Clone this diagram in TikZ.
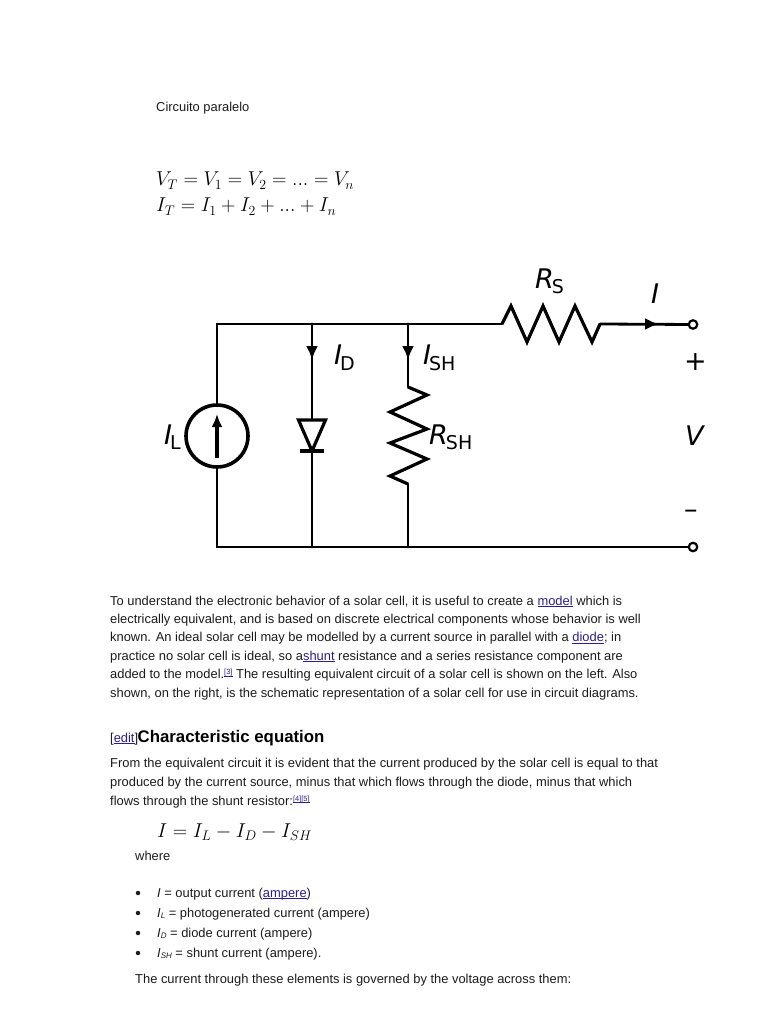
\documentclass[tikz,border=0pt]{standalone}
\usepackage{fontspec}
\setmainfont{Liberation Sans}
\newfontfamily\labelfont{DejaVu Sans}
\usetikzlibrary{positioning, arrows.meta, calc}
\definecolor{kink}{HTML}{1c1c1c}
\definecolor{klink}{HTML}{2a1f8f}
\newcommand{\klink}[1]{\textcolor{klink}{\underline{\smash{#1}}}}
\newcommand{\kref}[1]{\raisebox{4pt}{\fontsize{7.5}{8}\selectfont\klink{[#1]}}}
\newcommand{\ksub}[2]{\textit{#1}\raisebox{-1.5pt}{\fontsize{8}{8}\selectfont\textit{#2}}}
\newcommand{\klabel}[2]{{\labelfont\fontsize{27}{27}\selectfont\itshape #1}\kern-2pt\raisebox{-5.5pt}{\labelfont\fontsize{19}{19}\selectfont #2}}
\newcommand{\keq}[1]{\scalebox{.966}{$#1$}}
\tikzset{
    x=1pt, y=1pt,
    wire/.style={line width=2.8pt, line cap=round, line join=miter, black},
    heavy/.style={line width=3.2pt, line join=miter, black},
    flow/.style={wire, -{Latex[length=14pt, width=12pt]}},
    terminal/.style={circle, draw=black, line width=2.2pt, fill=white, minimum size=8.5pt, inner sep=0pt},
    source/.style={circle, draw=black, line width=3.6pt, fill=white, minimum size=62pt, inner sep=0pt},
    bodytext/.style={anchor=base west, inner sep=0pt, text=kink, font=\fontsize{12.9}{15}\selectfont},
    eqtext/.style={anchor=base west, inner sep=0pt, text=black, font=\fontsize{20}{24}\selectfont},
    circlabel/.style={anchor=base west, inner sep=0pt, text=black},
    bulletdot/.style={circle, fill=kink, minimum size=4.5pt, inner sep=0pt}
}
\begin{document}
\begin{tikzpicture}
    \useasboundingbox (0,0) rectangle (768,-1024);
    \fill[white] (0,0) rectangle (768,-1024);

    % heading and parallel circuit equations
    \node[bodytext] (title) at (156,-111.5) {Circuito paralelo};
    \node[eqtext] (eqv) at (156,-186) {\keq{V_T = V_1 = V_2 = ... = V_n}};
    \node[eqtext] (eqi) at (156,-212) {\keq{I_T = I_1 + I_2 + ... + I_n}};

    % wire junctions
    \coordinate (tl) at (217,-324);
    \coordinate (bl) at (217,-547);
    \coordinate (topd) at (312,-324);
    \coordinate (tops) at (408,-324);
    \coordinate (botd) at (312,-547);
    \coordinate (bots) at (408,-547);
    \coordinate (rsa) at (502,-324);
    \coordinate (rsb) at (600,-324);
    \coordinate (rsha) at (408,-387);
    \coordinate (rshb) at (408,-484);
    \coordinate (tipd) at (312,-360);
    \coordinate (tips) at (408,-360);
    \coordinate (tipi) at (659,-324);
    \coordinate (dioa) at (312,-420);
    \coordinate (diob) at (312,-451);

    \node[source] (il) at (217,-436) {};
    \node[terminal] (tplus) at (693,-324.5) {};
    \node[terminal] (tminus) at (693,-547) {};

    %% wires
    \draw[wire] (il.north) -- (tl) -- (rsa);
    \draw[wire] (rsb) -- (tplus);
    \draw[wire] (il.south) -- (bl) -- (tminus);
    \draw[wire] (topd) -- (dioa);
    \draw[wire] (diob) -- (botd);
    \draw[wire] (tops) -- (rsha);
    \draw[wire] (rshb) -- (bots);

    %% current arrows
    \draw[flow] (topd) -- (tipd);
    \draw[flow] (tops) -- (tips);
    \draw[flow] (rsb) -- (tipi);

    %% series resistor
    \draw[heavy] (rsa) -- ++(9,18) -- ++(16,-36) -- ++(16,36) -- ++(16,-36) -- ++(16,36) -- ++(17,-36) -- (rsb);

    %% shunt resistor
    \draw[heavy] (rsha) -- ++(19,-8) -- ++(-37,-17) -- ++(37,-17) -- ++(-37,-14) -- ++(37,-16) -- ++(-37,-17) -- (rshb);

    %% diode
    \draw[heavy] (dioa) -- ++(-13.5,0) -- (diob) -- ++(13.5,31) -- cycle;
    \draw[line width=4pt] ($(diob)+(-12,0)$) -- ($(diob)+(12,0)$);

    %% source arrow
    \draw[line width=4pt, -{Latex[length=13pt, width=11pt]}] ($(il)+(0,-22)$) -- ($(il)+(0,22)$);

    %% labels
    \node[circlabel] (lrs) at (535,-288) {\klabel{R}{S}};
    \node[circlabel] (li) at (651,-303.5) {\klabel{I}{}};
    \node[circlabel] (lid) at (334,-364.5) {\klabel{I}{D}};
    \node[circlabel] (lish) at (423,-364.5) {\klabel{I}{SH}};
    \node[circlabel] (lil) at (164,-444) {\klabel{I}{L}};
    \node[circlabel] (lrsh) at (429,-444) {\klabel{R}{SH}};
    \node[circlabel] (lv) at (685,-445) {\klabel{V}{}};
    \node[circlabel] (lplus) at (684,-370) {\labelfont\fontsize{27}{27}\selectfont +};
    \node[circlabel] (lminus) at (684,-518) {\labelfont\fontsize{27}{27}\selectfont \textendash};

    % first paragraph
    \node[bodytext] (p1) at (110,-605) {To understand the electronic behavior of a solar cell, it is useful to create a \klink{model} which is};
    \node[bodytext] (p2) at (110,-623) {electrically equivalent, and is based on discrete electrical components whose behavior is well};
    \node[bodytext] (p3) at (110,-641.5) {known. An ideal solar cell may be modelled by a current source in parallel with a \klink{diode}; in};
    \node[bodytext] (p4) at (110,-660) {practice no solar cell is ideal, so a\klink{shunt} resistance and a series resistance component are};
    \node[bodytext] (p5) at (110,-678.5) {added to the model.\kref{3} The resulting equivalent circuit of a solar cell is shown on the left. Also};
    \node[bodytext] (p6) at (110,-697) {shown, on the right, is the schematic representation of a solar cell for use in circuit diagrams.};

    % characteristic equation
    \node[bodytext] (edit) at (110,-742) {[\klink{edit}]};
    \node[bodytext, font=\fontsize{16.8}{18}\selectfont\bfseries, text=black] (head) at (137.5,-742) {Characteristic equation};
    \node[bodytext] (q1) at (110,-767) {From the equivalent circuit it is evident that the current produced by the solar cell is equal to that};
    \node[bodytext] (q2) at (110,-786) {produced by the current source, minus that which flows through the diode, minus that which};
    \node[bodytext] (q3) at (110,-805) {flows through the shunt resistor:\kref{4}\kref{5}};
    \node[eqtext] (eqc) at (157,-837) {\keq{I = I_L - I_D - I_{SH}}};
    \node[bodytext] (where) at (135,-860) {where};

    %% list
    \foreach \y in {897,917,937,957}
    {
        \node[bulletdot] (dot\y) at (138,-\y+4) {};
    }
    \node[bodytext] (b1) at (157,-897) {\textit{I} = output current (\klink{ampere})};
    \node[bodytext] (b2) at (157,-917) {\ksub{I}{L} = photogenerated current (ampere)};
    \node[bodytext] (b3) at (157,-937) {\ksub{I}{D} = diode current (ampere)};
    \node[bodytext] (b4) at (157,-957) {\ksub{I}{SH} = shunt current (ampere).};
    \node[bodytext] (last) at (135,-983) {The current through these elements is governed by the voltage across them:};
\end{tikzpicture}
\end{document}
